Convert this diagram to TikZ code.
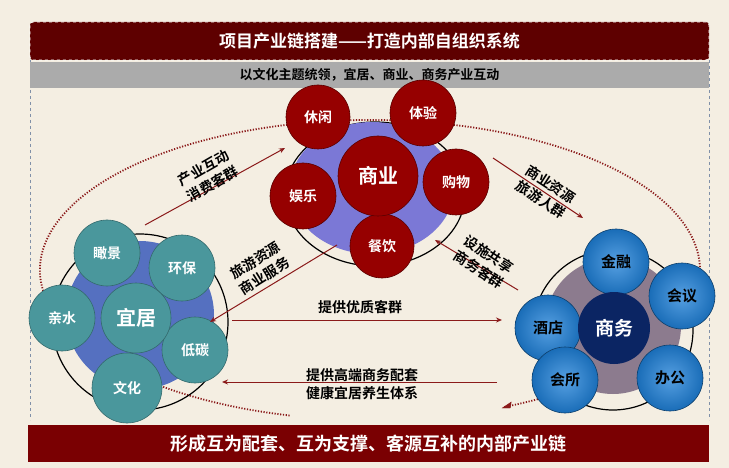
\documentclass[tikz,border=0pt]{standalone}
\usepackage{fontspec}
\setmainfont{Noto Sans CJK SC}[BoldFont={* Bold}]
\newfontfamily\cjkb{Noto Sans CJK SC Bold}
\usetikzlibrary{arrows.meta}
\definecolor{bg}{HTML}{F4EEE2}
\definecolor{dred}{HTML}{5E0000}
\definecolor{bred}{HTML}{7A0002}
\definecolor{cred}{HTML}{960000}
\definecolor{teal1}{HTML}{4A979C}
\definecolor{blu1}{HTML}{1E80D8}
\definecolor{navy1}{HTML}{0B2563}
\definecolor{purp}{HTML}{7B78D6}
\definecolor{bdisc}{HTML}{5570C0}
\definecolor{gdisc}{HTML}{8C7B8E}
\definecolor{arr}{HTML}{8B1A1A}
\definecolor{frame}{HTML}{8090A8}
\tikzset{
  rc/.style={circle,fill=cred,draw=cred!60!black,line width=0.6pt,text=white,font=\cjkb\fontsize{14}{14}\selectfont,minimum size=#1,inner sep=0pt},
  tc/.style={circle,fill=teal1,draw=teal1!70!black,line width=0.6pt,text=white,font=\cjkb\fontsize{14}{14}\selectfont,minimum size=#1,inner sep=0pt},
  bc/.style={circle,shading=radial,inner color=blu1!75!white,outer color=blu1!85!black,draw=blu1!50!black,line width=0.6pt,text=black,font=\cjkb\fontsize{15}{15}\selectfont,minimum size=#1,inner sep=0pt},
  con/.style={arr,line width=1pt,-{Stealth[length=6pt,width=5pt]}},
  lab/.style={font=\cjkb\fontsize{14}{18}\selectfont,align=center,text=black},
  dots/.style={arr,line width=1.8pt,dash pattern=on 1.2pt off 1.6pt}
}
\begin{document}
\begin{tikzpicture}[x=1pt,y=-1pt]
\fill[bg] (0,0) rectangle (729,468);
\useasboundingbox (0,0) rectangle (729,468);
% frame
\draw[frame,dashed,line width=0.6pt] (30,60) -- (30,420) (709,60) -- (709,420);
\node[fill=dred,draw=white,dashed,line width=0.8pt,rounded corners=3pt,minimum width=679pt,minimum height=38pt,text=white,font=\cjkb\fontsize{17}{17}\selectfont] (title) at (369.5,41) {项目产业链搭建——打造内部自组织系统};
\node[fill=black!33,minimum width=679pt,minimum height=26pt,inner sep=0pt,font=\cjkb\fontsize{13}{13}\selectfont] (sub) at (369.5,75) {以文化主题统领，宜居、商业、商务产业互动};
\node[fill=bred,minimum width=681pt,minimum height=37pt,inner sep=0pt,text=white,font=\cjkb\fontsize{18}{18}\selectfont] (foot) at (368.5,443.5) {形成互为配套、互为支撑、客源互补的内部产业链};
% dotted ellipse
\begin{scope}[shift={(370,270)}]
\draw[dots] (165:330 and 150) arc[start angle=165,end angle=375,x radius=330,y radius=150];
\draw[dots] (130:330 and 150) arc[start angle=130,end angle=104,x radius=330,y radius=150];
\draw[dots] (55:330 and 150) arc[start angle=55,end angle=66,x radius=330,y radius=150];
\coordinate (dtip) at (66:330 and 150);
\end{scope}
\draw[arr,fill=arr] (dtip) ++(-2,1) -- ++(9,-6) -- ++(-1,6) -- cycle;
% commerce cluster
\draw[black,line width=1.2pt] (375,194) ellipse[x radius=90,y radius=72];
\fill[purp] (372,188) ellipse[x radius=82,y radius=66];
\node[rc=64pt] (xx) at (318,117) {休闲};
\node[rc=66pt] (ty) at (423,113) {体验};
\node[rc=66pt] (gw) at (456,182) {购物};
\node[rc=66pt] (yl) at (303,196) {娱乐};
\node[rc=64pt] (cy) at (382,246) {餐饮};
\node[rc=80pt,font=\cjkb\fontsize{20}{20}\selectfont] (sy) at (378,176) {商业};
% residential cluster
\draw[black,line width=1.2pt] (140,322) circle[radius=88];
\fill[bdisc] (140,315) circle[radius=74];
\node[tc=66pt] (kj) at (107,253) {瞰景};
\node[tc=66pt] (hb) at (182,268) {环保};
\node[tc=66pt] (qs) at (62,318) {亲水};
\node[tc=66pt] (dt) at (195,350) {低碳};
\node[tc=70pt] (wh) at (127,388) {文化};
\node[tc=70pt,font=\cjkb\fontsize{20}{20}\selectfont] (yj) at (136,318) {宜居};
% business cluster
\draw[black,line width=1.2pt] (613,330) circle[radius=80];
\fill[gdisc] (613,326) circle[radius=68];
\node[bc=66pt] (jr) at (616,262) {金融};
\node[bc=66pt] (hy) at (682,296) {会议};
\node[bc=66pt] (jd) at (548,328) {酒店};
\node[bc=66pt] (hs) at (565,380) {会所};
\node[bc=66pt] (bg) at (670,378) {办公};
\node[circle,fill=navy1,text=white,minimum size=72pt,font=\cjkb\fontsize{19}{19}\selectfont] (sw) at (614,328) {商务};
% connectors
\coordinate (a1) at (145,225); \coordinate (a2) at (285,148);
\draw[con] (a1) -- (a2);
\node[lab,rotate=30] (l1) at (208,176) {产业互动\\消费客群};
\coordinate (b1) at (337,245); \coordinate (b2) at (210,322);
\draw[con] (b1) -- (b2);
\node[lab,rotate=32] (l2) at (260,268) {旅游资源\\商业服务};
\coordinate (c1) at (493,158); \coordinate (c2) at (583,218);
\draw[con] (c1) -- (c2);
\node[lab,rotate=-33] (l3) at (546,192) {商业资源\\旅游人群};
\coordinate (d1) at (518,290); \coordinate (d2) at (435,240);
\draw[con] (d1) -- (d2);
\node[lab,rotate=-33] (l4) at (484,262) {设施共享\\商务客群};
\coordinate (e1) at (232,320); \coordinate (e2) at (502,320);
\draw[con] (e1) -- (e2);
\node[lab] (l5) at (360,307) {提供优质客群};
\coordinate (f1) at (497,382); \coordinate (f2) at (222,382);
\draw[con] (f1) -- (f2);
\node[lab] (l6) at (362,384) {提供高端商务配套\\健康宜居养生体系};
\end{tikzpicture}
\end{document}
